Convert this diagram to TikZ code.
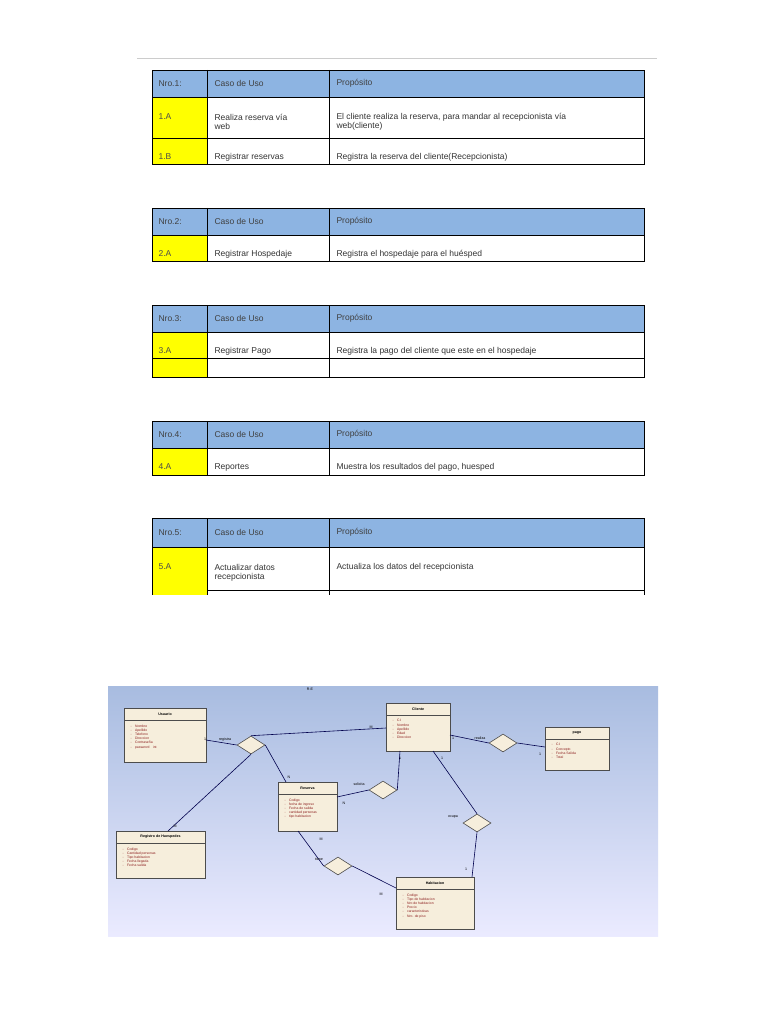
\documentclass[tikz,border=0pt]{standalone}
\usepackage{fontspec}
\setmainfont{Liberation Sans}
\usetikzlibrary{shapes.geometric}
\definecolor{hdr}{RGB}{141,180,226}
\definecolor{ylw}{RGB}{255,255,0}
\definecolor{ent}{RGB}{246,238,220}
\definecolor{attr}{RGB}{140,30,30}
\definecolor{bgtop}{RGB}{168,188,224}
\begin{document}
\begin{tikzpicture}[x=1pt,y=-1pt,
  cell/.style={draw=black,line width=0.6pt},
  htxt/.style={anchor=west,font=\fontsize{8.5}{10}\selectfont,text=black!75},
  ttxt/.style={anchor=west,font=\fontsize{8.5}{9.5}\selectfont,text=black!80,align=left},
  entbox/.style={draw=black!70,fill=ent,line width=0.6pt},
  etitle/.style={font=\bfseries\fontsize{3.6}{4}\selectfont},
  eattr/.style={anchor=north west,font=\fontsize{3.4}{4.2}\selectfont,text=attr,align=left},
  rel/.style={diamond,draw=black!70,fill=ent,minimum width=28pt,minimum height=18pt,inner sep=0pt,line width=0.6pt},
  conn/.style={draw=black!70!blue,line width=0.6pt},
  lbl/.style={font=\fontsize{3.6}{4}\selectfont,inner sep=0pt}]
\useasboundingbox (0,0) rectangle (768,1024);
\fill[white] (0,0) rectangle (768,1024);
\draw[black!20] (137,58) -- (657,58);
% generic table macro-like drawing
\newcommand{\tblhead}[3]{% y0 y1 label
  \fill[hdr] (152,#1) rectangle (644,#2);
  \draw[cell] (152,#1) rectangle (644,#2);
  \draw[cell] (207,#1) -- (207,#2); \draw[cell] (329,#1) -- (329,#2);
  \node[htxt] at (155,{(#1+#2)/2}) {#3};
  \node[htxt] at (211,{(#1+#2)/2}) {Caso de Uso};
  \node[htxt] at (333,{(#1+#2)/2}) {Propósito};}
\newcommand{\tblrow}[2]{% y0 y1
  \fill[ylw] (152,#1) rectangle (207,#2);
  \draw[cell] (152,#1) rectangle (644,#2);
  \draw[cell] (207,#1) -- (207,#2); \draw[cell] (329,#1) -- (329,#2);}
% Table 1
\tblhead{70}{97}{Nro.1:}
\tblrow{97}{138}\tblrow{138}{164}
\node[ttxt,text=black!70] at (155,117) {1.A};
\node[ttxt] at (211,122) {Realiza reserva vía\\web};
\node[ttxt] at (333,122) {El cliente realiza la reserva, para mandar al recepcionista vía\\web(cliente)};
\node[ttxt,text=black!70] at (155,157) {1.B};
\node[ttxt] at (211,157) {Registrar reservas};
\node[ttxt] at (333,157) {Registra la reserva del cliente(Recepcionista)};
% Table 2
\tblhead{208}{235}{Nro.2:}
\tblrow{235}{261}
\node[ttxt,text=black!70] at (155,254) {2.A};
\node[ttxt] at (211,254) {Registrar Hospedaje};
\node[ttxt] at (333,254) {Registra el hospedaje para el huésped};
% Table 3
\tblhead{305}{332}{Nro.3:}
\tblrow{332}{358}\tblrow{358}{377}
\node[ttxt,text=black!70] at (155,351) {3.A};
\node[ttxt] at (211,351) {Registrar Pago};
\node[ttxt] at (333,351) {Registra la pago del cliente que este en el hospedaje};
% Table 4
\tblhead{421}{448}{Nro.4:}
\tblrow{448}{475}
\node[ttxt,text=black!70] at (155,467) {4.A};
\node[ttxt] at (211,467) {Reportes};
\node[ttxt] at (333,467) {Muestra los resultados del pago, huesped};
% Table 5
\tblhead{518}{547}{Nro.5:}
\tblrow{547}{590}
\fill[ylw] (152,590) rectangle (207,595);
\draw[cell] (152,590) -- (152,595) (207,590) -- (207,595) (329,590) -- (329,595) (644,590) -- (644,595);
\node[ttxt,text=black!70] at (155,567) {5.A};
\node[ttxt] at (211,573) {Actualizar datos\\recepcionista};
\node[ttxt] at (333,567) {Actualiza los datos del recepcionista};
% ER diagram background
\shade[top color=bgtop,bottom color=white!92!blue] (108,686) rectangle (658,936);
\node[lbl] (re) at (310,689) {R-E};
% entities
\newcommand{\entity}[7]{% name x0 y0 x1 y1 title attrs
  \draw[entbox] (#2,#3) rectangle (#4,#5);
  \draw[black!70,line width=0.5pt] (#2,#3+12) -- (#4,#3+12);
  \node[etitle] at ({(#2+#4)/2},#3+6) {#6};
  \node[eattr] at (#2+3,#3+13) {#7};
  \coordinate (#1) at ({(#2+#4)/2},{(#3+#5)/2});}
\entity{usuario}{124}{708}{206}{762}{Usuario}{-\quad Nombre\\-\quad Apellido\\-\quad Telefono\\-\quad Direccion\\-\quad Contraseña\\-\quad password\quad int}
\entity{cliente}{386}{703}{450}{751}{Cliente}{-\quad C.I\\-\quad Nombre\\-\quad Apellido\\-\quad Edad\\-\quad Direccion}
\entity{pago}{545}{727}{609}{770}{pago}{-\quad C.I\\-\quad Concepto\\-\quad Fecha Salida\\-\quad Total}
\entity{reserva}{278}{782}{337}{831}{Reserva}{-\quad Codigo\\-\quad fecha de ingreso\\-\quad Fecha de salida\\-\quad cantidad personas\\-\quad tipo habitacion}
\entity{registro}{116}{831}{205}{878}{Registro de Huespedes}{-\quad Codigo\\-\quad Cantidad personas\\-\quad Tipo habitacion\\-\quad Fecha llegada\\-\quad Fecha salida}
\entity{habitacion}{396}{877}{474}{929}{Habitacion}{-\quad Codigo\\-\quad Tipo de habitacion\\-\quad Nro de habitacion\\-\quad Precio\\-\quad caracteristicas\\-\quad Nro. de piso}
% relationships
\node[rel] (registra) at (251,745) {};
\node[rel] (solicita) at (383,790) {};
\node[rel] (realiza) at (503,743) {};
\node[rel] (ocupa) at (477,823) {};
\node[rel] (tiene) at (338,866) {};
% connectors
\coordinate (uR) at (206,740); \coordinate (cL) at (386,728);
\coordinate (rT) at (286,782); \coordinate (gT) at (168,831);
\coordinate (rR) at (337,797); \coordinate (cB1) at (400,751);
\coordinate (cB2) at (433,751); \coordinate (hT) at (472,877);
\coordinate (cR) at (450,735); \coordinate (pL) at (545,747);
\coordinate (rB) at (298,831); \coordinate (hL) at (396,888);
\draw[conn] (uR) -- (registra.west);
\draw[conn] (registra.north) -- (cL);
\draw[conn] (registra.east) -- (rT);
\draw[conn] (registra.south) -- (gT);
\draw[conn] (rR) -- (solicita.west);
\draw[conn] (solicita.east) -- (cB1);
\draw[conn] (cB2) -- (ocupa.north);
\draw[conn] (ocupa.south) -- (hT);
\draw[conn] (cR) -- (realiza.west);
\draw[conn] (realiza.east) -- (pL);
\draw[conn] (rB) -- (tiene.west);
\draw[conn] (tiene.east) -- (hL);
% labels
\node[lbl] (l1) at (205,739) {1};
\node[lbl] (l2) at (225,740) {registra};
\node[lbl] (l3) at (371,727) {M};
\node[lbl] (l4) at (289,777) {N};
\node[lbl] (l5) at (175,826) {M};
\node[lbl] (l6) at (359,784) {solicita};
\node[lbl] (l7) at (344,803) {N};
\node[lbl] (l8) at (400,758) {1};
\node[lbl] (l9) at (442,758) {1};
\node[lbl] (l10) at (453,738) {1};
\node[lbl] (l11) at (480,738) {realiza};
\node[lbl] (l12) at (540,754) {1};
\node[lbl] (l13) at (453,817) {ocupa};
\node[lbl] (l14) at (466,869) {1};
\node[lbl] (l15) at (381,894) {M};
\node[lbl] (l16) at (321,839) {M};
\node[lbl] (l17) at (319,859) {tiene};
\end{tikzpicture}
\end{document}
